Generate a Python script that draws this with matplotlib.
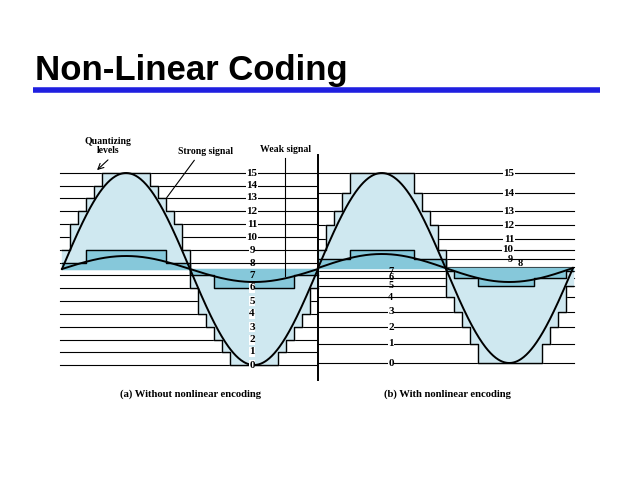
import numpy as np
import matplotlib
matplotlib.use("Agg")
import matplotlib.pyplot as plt

# level positions (pixel rows), level 0..15
left_levels = [365, 352, 340, 327, 314, 301, 288, 275, 263, 250, 237, 224, 211, 198, 186, 173]
right_levels = [363, 344, 327, 312, 297, 286, 278, 271, 267, 259, 250, 239, 225, 211, 193, 173]
level_names = [str(i) for i in range(16)]

# signal parameters (pixels): start x, period, midline, strong amp, weak amp
left_sig = dict(x0=62, period=256, mid=269, strong=96, weak=13)
right_sig = dict(x0=318, period=255, mid=268, strong=95, weak=14)

LIGHT = "#cfe8f0"
DARK = "#86c8da"

fig = plt.figure(figsize=(6.38, 4.78), dpi=100)
ax = fig.add_axes([0, 0, 1, 1])
ax.set_xlim(0, 638)
ax.set_ylim(478, 0)
ax.axis("off")

serif = "Liberation Serif"


def quantize_out(ymin, ymax, mid, levels):
    # step level that encloses the curve over each interval
    lv = np.sort(np.array(levels))
    out = []
    for a, b in zip(ymin, ymax):
        if (a + b) / 2 < mid:
            cand = lv[lv <= a + 1.5]
            out.append(cand.max() if len(cand) else lv.min())
        else:
            cand = lv[lv >= b - 1.5]
            out.append(cand.min() if len(cand) else lv.max())
    return np.array(out)


def panel(sig, levels, x_left, x_right, dx=8):
    x0, per = sig["x0"], sig["period"]
    for y in levels:
        ax.plot([x_left, x_right], [y, y], color="k", lw=0.8, zorder=1)
    for amp, col, z in ((sig["strong"], LIGHT, 2), (sig["weak"], DARK, 3)):
        f = lambda x: sig["mid"] - amp * np.sin(2 * np.pi * (x - x0) / per)
        xs = np.arange(x0, x0 + per - 0.1, dx)
        ymin, ymax = [], []
        for xa in xs:
            seg = f(np.linspace(xa, min(xa + dx, x0 + per), 20))
            ymin.append(seg.min()); ymax.append(seg.max())
        q = quantize_out(ymin, ymax, sig["mid"], levels)
        xs_e = np.append(xs, x0 + per)
        q_e = np.append(q, q[-1])
        ax.fill_between(xs_e, q_e, sig["mid"], step="post", color=col, zorder=z)
        ax.step(xs_e, q_e, where="post", color="k", lw=1.0, zorder=4)
        xx = np.linspace(x0, x0 + per, 400)
        ax.plot(xx, f(xx), color="k", lw=1.4, zorder=5)


panel(left_sig, left_levels, 60, 316)
panel(right_sig, right_levels, 318, 574)

bb = dict(boxstyle="square,pad=0.05", fc="white", ec="none")
for i, y in enumerate(left_levels):
    ax.text(252, y, level_names[i], ha="center", va="center", fontsize=8, family=serif,
            weight="bold", bbox=bb if i not in (7, 8) else None, zorder=6)
right_lab_x = [391] * 8 + [520, 510, 508, 509, 509, 509, 509, 509]
right_lab_y = list(right_levels)
right_lab_y[8] = 264
right_lab_y[10] = 249
for i, y in enumerate(right_lab_y):
    ax.text(right_lab_x[i], y, level_names[i], ha="center", va="center",
            fontsize=8 if (i >= 10 or i < 4) else 7.5,
            family=serif, weight="bold", bbox=bb if i >= 10 or i < 4 else None, zorder=6)

# divider and weak signal pointer
ax.plot([318, 318], [155, 380], color="k", lw=1.4, zorder=6)
ax.plot([285, 285], [158, 276], color="k", lw=0.8, zorder=6)

ax.text(285, 149, "Weak signal", ha="center", va="center", fontsize=7, family=serif, weight="bold")
ax.text(205, 151, "Strong signal", ha="center", va="center", fontsize=7, family=serif, weight="bold")
ax.annotate("", xy=(165, 200), xytext=(196, 158),
            arrowprops=dict(arrowstyle="-", color="k", lw=0.8))
ax.text(108, 146, "Quantizing\nlevels", ha="center", va="center", fontsize=7,
        family=serif, weight="bold", linespacing=1.1)
ax.annotate("", xy=(95, 172), xytext=(110, 158),
            arrowprops=dict(arrowstyle="->", color="k", lw=0.8))

ax.text(190, 394, "(a) Without nonlinear encoding", ha="center", va="center",
        fontsize=7.7, family=serif, weight="bold")
ax.text(447, 394, "(b) With nonlinear encoding", ha="center", va="center",
        fontsize=7.7, family=serif, weight="bold")

ax.text(35, 70, "Non-Linear Coding", ha="left", va="center", fontsize=25,
        family="Liberation Sans", weight="bold")
ax.plot([33, 600], [90, 90], color="#1f1fe0", lw=4, solid_capstyle="butt")

fig.savefig("out.png", dpi=100)
